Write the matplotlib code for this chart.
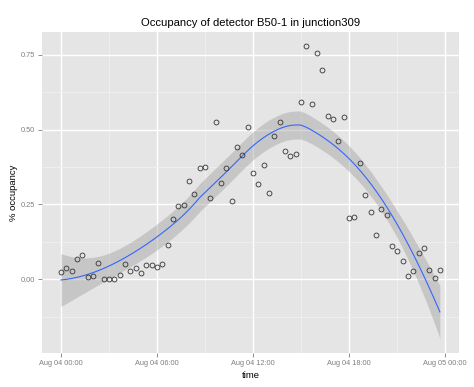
import numpy as np
import pandas as pd
import matplotlib
matplotlib.use('Agg')
import matplotlib.pyplot as plt
import matplotlib.dates as mdates

# occupancy readings every 20 minutes, Aug 04 00:00 .. 23:40
start = pd.Timestamp('2011-08-04 00:00')
occupancy = [0.023, 0.037, 0.029, 0.069, 0.081, 0.007, 0.010, 0.054, 0.001, 0.002,
             0.001, 0.014, 0.053, 0.029, 0.039, 0.020, 0.048, 0.047, 0.040, 0.053,
             0.114, 0.200, 0.245, 0.249, 0.329, 0.286, 0.372, 0.376, 0.271, 0.526,
             0.323, 0.372, 0.261, 0.442, 0.415, 0.509, 0.355, 0.317, 0.382, 0.290,
             0.478, 0.526, 0.427, 0.412, 0.419, 0.591, 0.778, 0.584, 0.756, 0.700,
             0.546, 0.536, 0.463, 0.542, 0.206, 0.209, 0.390, 0.281, 0.226, 0.148,
             0.236, 0.216, 0.111, 0.096, 0.060, 0.011, 0.028, 0.089, 0.104, 0.031,
             0.004, 0.031]
times = pd.date_range(start, periods=len(occupancy), freq='20min')
x_ticks = pd.date_range('2011-08-04 00:00', '2011-08-05 00:00', freq='6h')
y_ticks = [0.00, 0.25, 0.50, 0.75]
title = 'Occupancy of detector B50-1 in junction309'


def loess_rows(x, xe, span=0.75):
    # local quadratic, tricube weights -> smoother matrix rows
    n = len(x)
    q = int(np.floor(n * span))
    rows = []
    for x0 in xe:
        d = np.abs(x - x0)
        h = np.sort(d)[q - 1]
        w = np.clip(1 - (d / h) ** 3, 0, None) ** 3
        X = np.column_stack([np.ones(n), x - x0, (x - x0) ** 2])
        XtW = X.T * w
        rows.append(np.linalg.solve(XtW @ X, XtW)[0])
    return np.array(rows)


hrs = np.asarray((times - start) / pd.Timedelta(hours=1))
y = np.array(occupancy)
L = loess_rows(hrs, hrs)
IL = np.eye(len(y)) - L
M = IL.T @ IL
d1 = np.trace(M)
d2 = np.trace(M @ M)
sigma = np.sqrt(np.sum((IL @ y) ** 2) / d1)
df = d1 ** 2 / d2
z = 1.959964
tq = z + (z ** 3 + z) / (4 * df) + (5 * z ** 5 + 16 * z ** 3 + 3 * z) / (96 * df ** 2)

xe = np.linspace(hrs.min(), hrs.max(), 80)
Le = loess_rows(hrs, xe)
fit = Le @ y
se = sigma * np.sqrt(np.sum(Le ** 2, axis=1))
lo, hi = fit - tq * se, fit + tq * se
te = start + pd.to_timedelta(xe, unit='h')

plt.rcParams['font.family'] = ['Liberation Sans', 'DejaVu Sans']
fig = plt.figure(figsize=(4.74, 3.87), dpi=100)
ax = fig.add_axes([0.0886, 0.088, 0.8794, 0.830])
ax.set_facecolor('#E5E5E5')
for s in ax.spines.values():
    s.set_visible(False)

ax.fill_between(te, lo, hi, color='#999999', alpha=0.4, lw=0, zorder=2)
ax.plot(te, fit, color='#3366FF', lw=0.8, zorder=3)
ax.plot(times, y, 'o', mfc='none', mec='#333333', ms=3.5, mew=0.6, zorder=4)

xr = mdates.date2num(times[-1]) - mdates.date2num(times[0])
ax.set_xlim(mdates.date2num(times[0]) - 0.05 * xr, mdates.date2num(times[-1]) + 0.05 * xr)
ymin = min(lo.min(), y.min())
ymax = max(hi.max(), y.max())
yr = ymax - ymin
ax.set_ylim(ymin - 0.05 * yr, ymax + 0.05 * yr)

ax.set_xticks(mdates.date2num(x_ticks))
ax.xaxis.set_major_formatter(mdates.DateFormatter('%b %d %H:%M'))
ax.xaxis.set_minor_locator(matplotlib.ticker.FixedLocator(
    mdates.date2num(x_ticks[:-1] + pd.Timedelta(hours=3))))
ax.set_yticks(y_ticks)
ax.yaxis.set_major_formatter(matplotlib.ticker.FormatStrFormatter('%.2f'))
ax.set_yticks([-0.125, 0.125, 0.375, 0.625], minor=True)

ax.grid(which='major', color='white', lw=1.0, zorder=0)
ax.grid(which='minor', color='#F2F2F2', lw=0.5, zorder=0)
ax.set_axisbelow(True)
ax.tick_params(which='major', length=3, width=0.6, color='#7F7F7F',
               labelcolor='#7F7F7F', labelsize=5.3, pad=2)
ax.tick_params(which='minor', length=0)

ax.set_title(title, fontsize=8.1, pad=4)
ax.set_xlabel('time', fontsize=6.8, labelpad=3)
ax.set_ylabel('% occupancy', fontsize=6.8, labelpad=2)

fig.savefig('out.png', dpi=100, facecolor='white')
